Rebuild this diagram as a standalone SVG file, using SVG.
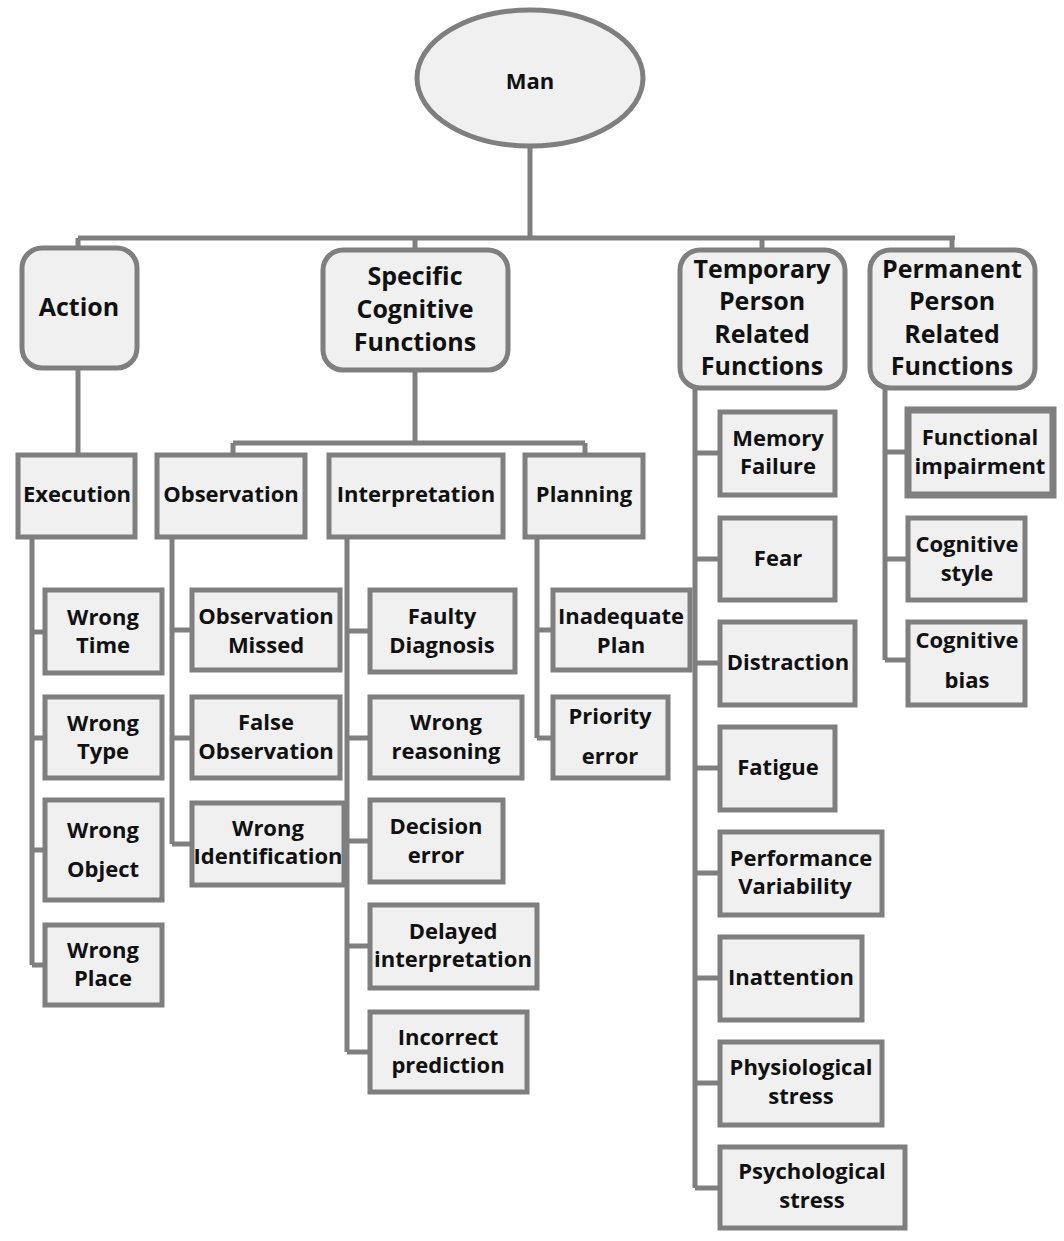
<svg xmlns="http://www.w3.org/2000/svg" width="1064" height="1241" viewBox="0 0 1064 1241">
<style>
.b{fill:#f0f0f0;stroke:#7f7f7f;stroke-width:5}
.c line{stroke:#7f7f7f;stroke-width:5}
text{font-family:"Open Sans","Liberation Sans",sans-serif;font-weight:bold;font-size:22px;fill:#111;text-anchor:middle}
.l{font-size:25px}
</style>
<rect width="1064" height="1241" fill="#fff"/>
<g class="c">
<line x1="530" y1="146" x2="530" y2="238"/><line x1="78" y1="238" x2="955" y2="238"/>
<line x1="78" y1="238" x2="78" y2="250"/><line x1="415" y1="238" x2="415" y2="250"/><line x1="762" y1="238" x2="762" y2="250"/><line x1="952" y1="238" x2="952" y2="250"/>
<line x1="78" y1="368" x2="78" y2="455"/>
<line x1="415" y1="370" x2="415" y2="443"/><line x1="233" y1="443" x2="585" y2="443"/>
<line x1="233" y1="443" x2="233" y2="455"/><line x1="585" y1="443" x2="585" y2="455"/>
<line x1="32" y1="537" x2="32" y2="965"/>
<line x1="32" y1="632" x2="45" y2="632"/><line x1="32" y1="738" x2="45" y2="738"/><line x1="32" y1="850" x2="45" y2="850"/><line x1="32" y1="965" x2="45" y2="965"/>
<line x1="172" y1="537" x2="172" y2="844"/>
<line x1="172" y1="630" x2="192" y2="630"/><line x1="172" y1="738" x2="192" y2="738"/><line x1="172" y1="844" x2="192" y2="844"/>
<line x1="347" y1="537" x2="347" y2="1052"/>
<line x1="347" y1="631" x2="370" y2="631"/><line x1="347" y1="738" x2="370" y2="738"/><line x1="347" y1="841" x2="370" y2="841"/><line x1="347" y1="946" x2="370" y2="946"/><line x1="347" y1="1052" x2="370" y2="1052"/>
<line x1="537" y1="537" x2="537" y2="738"/>
<line x1="537" y1="630" x2="553" y2="630"/><line x1="537" y1="738" x2="553" y2="738"/>
<line x1="695" y1="388" x2="695" y2="1188"/>
<line x1="695" y1="453" x2="720" y2="453"/><line x1="695" y1="559" x2="720" y2="559"/><line x1="695" y1="663" x2="720" y2="663"/><line x1="695" y1="768" x2="720" y2="768"/><line x1="695" y1="873" x2="720" y2="873"/><line x1="695" y1="978" x2="720" y2="978"/><line x1="695" y1="1083" x2="720" y2="1083"/><line x1="695" y1="1188" x2="720" y2="1188"/>
<line x1="885" y1="388" x2="885" y2="660"/>
<line x1="885" y1="452" x2="908" y2="452"/><line x1="885" y1="559" x2="908" y2="559"/><line x1="885" y1="660" x2="908" y2="660"/>
</g>
<g id="man"><ellipse class="b" cx="530" cy="78" rx="113" ry="68"/><text x="530" y="89" font-size="29">Man</text></g>
<g id="action"><rect class="b" x="22" y="248" width="115" height="120" rx="20"/><text x="79" y="316" class="l">Action</text></g>
<g id="scf"><rect class="b" x="323" y="250" width="185" height="120" rx="20"/><text x="415" y="285" class="l">Specific</text><text x="415" y="318" class="l">Cognitive</text><text x="415" y="351" class="l">Functions</text></g>
<g id="temp"><rect class="b" x="680" y="250" width="165" height="138" rx="20"/><text x="762" y="278" class="l">Temporary</text><text x="762" y="310" class="l">Person</text><text x="762" y="343" class="l">Related</text><text x="762" y="375" class="l">Functions</text></g>
<g id="perm"><rect class="b" x="870" y="250" width="165" height="138" rx="20"/><text x="952" y="278" class="l">Permanent</text><text x="952" y="310" class="l">Person</text><text x="952" y="343" class="l">Related</text><text x="952" y="375" class="l">Functions</text></g>
<g id="exec"><rect class="b" x="18" y="455" width="117" height="82"/><text x="77" y="502">Execution</text></g>
<g id="obs"><rect class="b" x="157" y="455" width="148" height="82"/><text x="231" y="502">Observation</text></g>
<g id="interp"><rect class="b" x="329" y="455" width="174" height="82"/><text x="416" y="502">Interpretation</text></g>
<g id="plan"><rect class="b" x="525" y="455" width="118" height="82"/><text x="584" y="502">Planning</text></g>
<g id="wtime"><rect class="b" x="45" y="590" width="117" height="83"/><text x="103" y="625">Wrong</text><text x="103" y="653">Time</text></g>
<g id="wtype"><rect class="b" x="45" y="697" width="117" height="81"/><text x="103" y="731">Wrong</text><text x="103" y="759">Type</text></g>
<g id="wobj"><rect class="b" x="45" y="800" width="117" height="100"/><text x="103" y="838">Wrong</text><text x="103" y="877">Object</text></g>
<g id="wplace"><rect class="b" x="45" y="925" width="117" height="80"/><text x="103" y="958">Wrong</text><text x="103" y="986">Place</text></g>
<g id="omiss"><rect class="b" x="192" y="590" width="148" height="80"/><text x="266" y="624">Observation</text><text x="266" y="653">Missed</text></g>
<g id="fobs"><rect class="b" x="192" y="697" width="148" height="81"/><text x="266" y="730">False</text><text x="266" y="759">Observation</text></g>
<g id="wident"><rect class="b" x="192" y="803" width="152" height="82"/><text x="268" y="836">Wrong</text><text x="268" y="864">Identification</text></g>
<g id="fdiag"><rect class="b" x="370" y="590" width="145" height="82"/><text x="442" y="624">Faulty</text><text x="442" y="653">Diagnosis</text></g>
<g id="wreas"><rect class="b" x="370" y="697" width="152" height="81"/><text x="446" y="730">Wrong</text><text x="446" y="759">reasoning</text></g>
<g id="derr"><rect class="b" x="370" y="800" width="133" height="82"/><text x="436" y="834">Decision</text><text x="436" y="863">error</text></g>
<g id="dint"><rect class="b" x="370" y="905" width="167" height="83"/><text x="453" y="939">Delayed</text><text x="453" y="967">interpretation</text></g>
<g id="ipred"><rect class="b" x="370" y="1012" width="157" height="80"/><text x="448" y="1045">Incorrect</text><text x="448" y="1073">prediction</text></g>
<g id="iplan"><rect class="b" x="553" y="590" width="137" height="80"/><text x="621" y="624">Inadequate</text><text x="621" y="653">Plan</text></g>
<g id="perr"><rect class="b" x="553" y="697" width="115" height="81"/><text x="610" y="724">Priority</text><text x="610" y="764">error</text></g>
<g id="mem"><rect class="b" x="720" y="412" width="115" height="83"/><text x="778" y="446">Memory</text><text x="778" y="474">Failure</text></g>
<g id="fear"><rect class="b" x="720" y="518" width="115" height="82"/><text x="778" y="566">Fear</text></g>
<g id="dist"><rect class="b" x="720" y="622" width="135" height="83"/><text x="788" y="670">Distraction</text></g>
<g id="fat"><rect class="b" x="720" y="727" width="115" height="83"/><text x="778" y="775">Fatigue</text></g>
<g id="pvar"><rect class="b" x="720" y="832" width="162" height="83"/><text x="801" y="866">Performance</text><text x="795" y="894">Variability</text></g>
<g id="inatt"><rect class="b" x="720" y="937" width="142" height="83"/><text x="791" y="985">Inattention</text></g>
<g id="phys"><rect class="b" x="720" y="1042" width="162" height="83"/><text x="801" y="1075">Physiological</text><text x="801" y="1104">stress</text></g>
<g id="psych"><rect class="b" x="720" y="1147" width="185" height="81"/><text x="812" y="1179">Psychological</text><text x="812" y="1208">stress</text></g>
<g id="func"><rect class="b" x="908" y="410" width="145" height="85" style="stroke-width:7"/><text x="980" y="445">Functional</text><text x="980" y="474">impairment</text></g>
<g id="cstyle"><rect class="b" x="908" y="518" width="117" height="82"/><text x="967" y="552">Cognitive</text><text x="967" y="581">style</text></g>
<g id="cbias"><rect class="b" x="908" y="622" width="117" height="83"/><text x="967" y="648">Cognitive</text><text x="967" y="688">bias</text></g>
</svg>
